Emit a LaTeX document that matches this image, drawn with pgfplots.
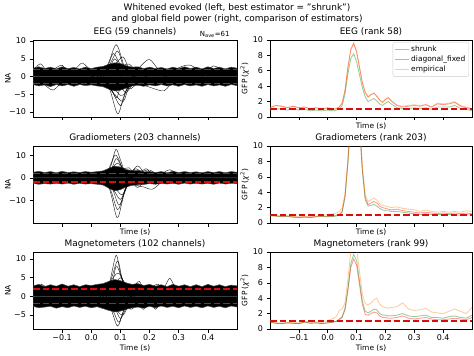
\documentclass[border=0pt]{standalone}
\usepackage{fontspec}
\setmainfont{DejaVu Sans}
\usepackage{pgfplots}
\pgfplotsset{compat=1.18}
\usepackage{pgfplotstable}

\pgfplotstableread{
t eu el gu gl mu ml
-0.20 2.35 -2.25 2.5 -2.4 2.8 -2.7
-0.18 2.75 -2.65 2.9 -2.8 3.2 -3.1
-0.16 2.25 -2.35 2.4 -2.5 2.6 -2.9
-0.14 2.65 -2.85 2.8 -2.7 3.1 -2.7
-0.12 2.15 -2.25 2.3 -2.4 2.7 -3.2
-0.10 2.75 -2.65 2.9 -2.7 3.3 -2.8
-0.08 2.25 -2.25 2.4 -2.3 2.7 -3.1
-0.06 2.55 -2.75 2.7 -2.8 3.1 -2.6
-0.04 2.15 -2.25 2.4 -2.4 2.6 -3.0
-0.02 2.65 -2.55 2.8 -2.7 3.1 -2.7
0.00 2.25 -2.35 2.5 -2.5 2.9 -3.1
0.02 2.65 -2.65 2.8 -2.8 3.2 -2.8
0.04 2.85 -2.85 3.1 -3.1 3.4 -3.3
0.06 3.45 -3.55 4.2 -4.5 4.0 -3.8
0.08 3.85 -4.05 5.2 -5.7 4.5 -4.2
0.10 3.65 -3.85 4.7 -5.2 4.2 -4.0
0.12 3.05 -3.25 3.7 -3.9 3.6 -3.5
0.14 2.65 -2.65 3.2 -3.3 3.2 -3.1
0.16 2.75 -2.45 3.3 -3.0 3.4 -2.9
0.18 2.25 -2.75 2.7 -2.9 2.9 -3.2
0.20 2.65 -2.35 2.8 -2.5 3.2 -2.7
0.22 2.25 -2.65 2.4 -2.8 2.7 -3.1
0.24 2.55 -2.25 2.8 -2.4 3.1 -2.6
0.26 2.15 -2.65 2.3 -2.7 2.6 -3.0
0.28 2.65 -2.35 2.9 -2.4 3.2 -2.7
0.30 2.25 -2.75 2.4 -2.8 2.7 -3.1
0.32 2.75 -2.25 2.8 -2.3 3.1 -2.6
0.34 2.25 -2.65 2.4 -2.7 2.6 -3.0
0.36 2.65 -2.35 2.7 -2.4 3.1 -2.7
0.38 2.15 -2.75 2.3 -2.7 2.6 -3.1
0.40 2.75 -2.25 2.8 -2.4 3.2 -2.6
0.42 2.25 -2.65 2.4 -2.8 2.7 -3.0
0.44 2.65 -2.35 2.8 -2.3 3.1 -2.7
0.46 2.15 -2.75 2.3 -2.7 2.6 -3.1
0.48 2.65 -2.25 2.8 -2.4 3.0 -2.6
0.50 2.35 -2.55 2.5 -2.5 2.8 -2.9
}\band

\pgfplotstableread{
t es ed ee gs gd ge ms md me
-0.20 1.2 0.9 1.2 1.0 0.9 1.1 0.9 0.9 1.0
-0.18 1.5 1.1 1.5 0.9 0.9 1.0 0.75 0.75 0.8
-0.16 1.4 1.0 1.4 0.85 0.8 0.9 0.7 0.7 0.75
-0.14 1.2 0.9 1.2 0.9 0.85 0.95 0.8 0.8 0.85
-0.12 1.4 1.1 1.4 0.8 0.75 0.85 0.75 0.75 0.8
-0.10 1.2 0.9 1.2 0.75 0.7 0.8 0.7 0.7 0.8
-0.08 1.3 1.0 1.3 0.8 0.75 0.85 0.9 0.9 1.0
-0.06 1.0 0.8 1.1 0.75 0.7 0.8 0.75 0.75 0.9
-0.04 1.2 0.9 1.2 0.85 0.8 0.9 0.8 0.8 0.95
-0.02 1.0 0.8 1.0 0.9 0.85 1.0 0.7 0.7 0.85
0.00 1.2 0.9 1.2 0.85 0.8 1.1 0.8 0.8 1.1
0.02 1.0 0.8 1.0 0.9 0.85 1.2 0.9 0.9 1.4
0.03 1.1 0.9 1.1 1.0 0.9 1.3 1.0 1.0 1.6
0.04 1.3 1.0 1.3 1.1 1.0 1.5 1.2 1.3 2.4
0.05 1.8 1.5 1.8 1.5 1.4 1.9 1.5 1.6 2.6
0.06 3.5 3.0 3.5 3.5 3.4 3.8 2.5 2.7 3.4
0.07 6.5 5.6 6.4 8 7.8 8.3 5.0 5.3 6.5
0.08 8.8 7.6 8.7 14 13.8 14 8.0 8.5 10.0
0.09 9.6 8.2 9.5 20 20 20 9.1 9.7 11.5
0.10 8.5 7.2 8.4 19 19 19 8.3 8.9 10.5
0.11 6.5 5.5 6.4 13 13 13.2 5.8 6.3 7.5
0.12 4.5 3.8 4.4 7 6.8 7.3 3.2 3.6 4.5
0.13 3.2 2.6 3.1 3.3 3.0 3.6 1.9 2.3 3.3
0.14 2.6 2.0 2.6 2.4 2.2 2.8 1.8 2.1 3.1
0.15 2.9 2.2 2.9 2.6 2.3 3.0 2.0 2.3 3.4
0.16 3.1 2.4 3.1 2.8 2.4 3.2 2.2 2.6 3.8
0.17 2.7 2.1 2.7 2.6 2.2 3.0 2.1 2.5 4.0
0.18 2.2 1.7 2.2 2.2 1.9 2.5 1.7 2.0 3.2
0.19 1.9 1.5 1.9 2.0 1.7 2.3 1.5 1.8 2.9
0.20 2.3 1.8 2.3 1.9 1.6 2.2 1.5 1.8 2.8
0.21 2.5 2.0 2.5 1.8 1.6 2.1 1.4 1.7 2.7
0.22 2.1 1.7 2.1 1.7 1.5 2.0 1.4 1.7 2.8
0.24 1.5 1.2 1.5 1.8 1.5 2.1 1.5 1.8 2.9
0.26 1.3 1.1 1.4 1.6 1.4 1.9 1.7 2.0 3.4
0.28 1.4 1.1 1.5 1.5 1.3 1.8 1.4 1.7 2.6
0.30 1.5 1.2 1.6 1.4 1.2 1.7 1.3 1.6 2.4
0.32 1.4 1.1 1.5 1.3 1.1 1.5 1.4 1.7 2.5
0.34 1.6 1.2 1.6 1.4 1.2 1.7 1.5 1.8 2.7
0.36 1.3 1.0 1.3 1.3 1.1 1.5 1.3 1.5 2.2
0.38 1.7 1.3 1.8 1.2 1.1 1.4 1.2 1.5 2.1
0.40 1.6 1.3 1.7 1.3 1.1 1.5 1.2 1.4 2.0
0.42 1.7 1.3 1.8 1.2 1.1 1.4 1.3 1.6 2.3
0.44 1.9 1.5 2.0 1.3 1.1 1.5 1.4 1.7 2.6
0.46 1.4 1.1 1.5 1.2 1.0 1.4 1.3 1.5 2.3
0.48 1.2 1.0 1.3 1.3 1.1 1.6 1.2 1.4 2.0
0.50 1.0 0.8 1.1 1.2 1.0 1.5 1.5 1.8 2.8
}\gfp

\definecolor{thrred}{rgb}{0.85,0.05,0.05}
\pgfplotsset{
  mybase/.style={scale only axis, height=77bp, xmin=-0.2, xmax=0.5,
    xtick={-0.1,0,0.1,0.2,0.3,0.4}, xticklabels={}, tick align=outside, tick pos=left,
    axis line style={line width=0.6bp}, major tick length=3.5bp,
    every tick/.style={black, line width=0.6bp},
    tick label style={font=\fontsize{8}{9}\selectfont},
    xticklabel style={yshift=1bp},
    label style={font=\fontsize{7.5}{9}\selectfont},
    xlabel style={at={(axis description cs:0.5,0)}, anchor=north, yshift=-2bp},
    title style={font=\fontsize{9}{11}\selectfont, at={(0.5,1)}, anchor=base, yshift=0bp, inner sep=0pt},
  },
  mybotx/.style={xticklabels={−0.1,0.0,0.1,0.2,0.3,0.4},
    xlabel style={yshift=-10bp}},
  myleft/.style={mybase, width=204bp, ylabel={NA},
    ylabel style={at={(axis description cs:-0.093,0.5)}, anchor=south}},
  myright/.style={mybase, width=202bp, ymin=0, ymax=10, ytick={0,2,4,6,8,10},
    yticklabels={0,2,4,6,8,10}, ylabel={GFP ({\itshape χ}\textsuperscript{2})},
    ylabel style={at={(axis description cs:-0.087,0.5)}, anchor=south}},
  mytrace/.style={black, line width=0.45bp, smooth, opacity=0.85},
  myband/.style={fill=black, draw=black!70, line width=0.5bp},
  mythr/.style={color=thrred, line width=1.8bp, dash pattern=on 6.5bp off 3bp},
  mysh/.style={color=red, opacity=0.4, line width=0.85bp},
  mydf/.style={color=green!50!black, opacity=0.4, line width=0.85bp},
  myem/.style={color=orange, opacity=0.4, line width=0.85bp},
}

\begin{document}
\begin{tikzpicture}[x=1bp,y=1bp]
\path[use as bounding box] (0,0) rectangle (474,355);
\node[anchor=base, font=\fontsize{9}{11}\selectfont] at (237,345) {Whitened evoked (left, best estimator = "shrunk")};
\node[anchor=base, font=\fontsize{9}{11}\selectfont] at (237,334) {and global field power (right, comparison of estimators)};

% ---------- EEG left
\begin{axis}[myleft, name=eegL, at={(33bp,238bp)}, anchor=south west,
  ymin=-11.4, ymax=10.3, ytick={-10,-5,0,5,10}, yticklabels={−10,−5,0,5,10},
  title={EEG (59 channels)}]
\addplot[myband] table[x=t,y=eu]{\band} \closedcycle;
\addplot[myband] table[x=t,y=el]{\band} \closedcycle;
\addplot[mytrace] coordinates {(0.0,0)(0.04,1)(0.06,4)(0.085,9)(0.105,5)(0.12,1)(0.15,0)};
\addplot[mytrace] coordinates {(0.0,0.5)(0.05,2)(0.075,6.5)(0.095,4)(0.12,2)(0.15,0.5)};
\addplot[mytrace] coordinates {(0.02,0)(0.06,3)(0.09,7.2)(0.11,3)(0.14,0)};
\addplot[mytrace] coordinates {(0.03,0)(0.06,2)(0.08,5)(0.1,3)(0.13,3.5)(0.16,1)(0.19,0)};
\addplot[mytrace] coordinates {(0.04,0)(0.07,2.5)(0.09,4.2)(0.11,5.5)(0.13,2)(0.15,0)};
\addplot[mytrace] coordinates {(0.02,0)(0.06,-3)(0.09,-10.5)(0.11,-6)(0.13,-2)(0.16,0)};
\addplot[mytrace] coordinates {(0.03,0)(0.07,-4)(0.1,-8.2)(0.12,-4)(0.15,0)};
\addplot[mytrace] coordinates {(0.04,-1)(0.08,-5)(0.11,-7)(0.13,-3)(0.17,-1)};
\addplot[mytrace] coordinates {(0.05,0)(0.085,-6)(0.1,-3)(0.12,-4.5)(0.15,-1)};
\addplot[mytrace] coordinates {(0.06,0)(0.09,-4.5)(0.11,-5.2)(0.14,-1)};
\addplot[mytrace] coordinates {(0.14,0)(0.17,3)(0.2,4.8)(0.23,2)(0.26,0)};
\addplot[mytrace] coordinates {(0.1,0)(0.13,-3.5)(0.16,-2)(0.2,-3)(0.25,-4)(0.28,-1)};
\addplot[mytrace] coordinates {(0.25,0)(0.3,2.5)(0.34,3.2)(0.38,1)};
\addplot[mytrace] coordinates {(-0.2,1.5)(-0.175,3.6)(-0.15,1.5)(-0.12,2.5)(-0.1,3.2)(-0.08,1)};
\addplot[mytrace] coordinates {(-0.08,1)(-0.05,2.5)(-0.03,3.8)(0.0,1.5)};
\addplot[mytrace] coordinates {(-0.18,-1)(-0.15,-3)(-0.13,-3.8)(-0.1,-1.5)};
\addplot[mytrace] coordinates {(0.38,0)(0.42,3)(0.46,1)};
\addplot[mythr] coordinates {(-0.2,1.96)(0.5,1.96)};
\addplot[mythr] coordinates {(-0.2,-1.96)(0.5,-1.96)};
\end{axis}
\node[anchor=base east, font=\fontsize{7}{8}\selectfont, xshift=-4bp, yshift=3bp] at (eegL.north east) {N\textsubscript{ave}=61};

% ---------- Grad left
\begin{axis}[myleft, at={(33bp,132bp)}, anchor=south west,
  ymin=-19.9, ymax=14.1, ytick={-10,0,10}, yticklabels={−10,0,10},
  title={Gradiometers (203 channels)}, xlabel={Time (s)}]
\addplot[myband] table[x=t,y=gu]{\band} \closedcycle;
\addplot[myband] table[x=t,y=gl]{\band} \closedcycle;
\addplot[mytrace] coordinates {(0.02,0)(0.05,2)(0.07,7)(0.085,12.7)(0.1,8)(0.115,3)(0.14,0)};
\addplot[mytrace] coordinates {(0.03,0)(0.06,3)(0.08,10)(0.095,8)(0.11,3)(0.13,0)};
\addplot[mytrace] coordinates {(0.03,0)(0.065,3)(0.085,8.5)(0.1,6)(0.12,2)(0.14,0)};
\addplot[mytrace] coordinates {(0.04,0)(0.07,4)(0.09,6.5)(0.11,4)(0.13,4.5)(0.15,1)};
\addplot[mytrace] coordinates {(0.05,0)(0.075,3)(0.095,5)(0.115,2)(0.14,0)};
\addplot[mytrace] coordinates {(0.02,0)(0.06,-4)(0.088,-17.5)(0.105,-11)(0.12,-3)(0.14,0)};
\addplot[mytrace] coordinates {(0.03,0)(0.065,-5)(0.09,-14)(0.11,-8)(0.13,-1)};
\addplot[mytrace] coordinates {(0.04,0)(0.07,-4)(0.095,-12)(0.115,-6)(0.135,0)};
\addplot[mytrace] coordinates {(0.04,0)(0.075,-5)(0.1,-9.5)(0.12,-4)(0.14,0)};
\addplot[mytrace] coordinates {(0.05,0)(0.08,-4)(0.105,-7.5)(0.125,-3)(0.15,0)};
\addplot[mytrace] coordinates {(0.12,0)(0.14,3)(0.16,5.3)(0.18,2.5)(0.2,0)};
\addplot[mytrace] coordinates {(0.14,0)(0.17,2.5)(0.2,3.5)(0.23,1)};
\addplot[mytrace] coordinates {(0.22,0)(0.25,2.5)(0.27,3.6)(0.3,1.5)(0.32,0)};
\addplot[mytrace] coordinates {(0.12,0)(0.15,-3)(0.18,-4)(0.21,-5)(0.24,-2)(0.27,0)};
\addplot[mytrace] coordinates {(0.13,0)(0.15,4)(0.17,3)(0.19,4)(0.21,1)};
\addplot[mytrace] coordinates {(0.1,0)(0.12,-4)(0.14,-2)(0.16,-4.2)(0.19,0)};
\addplot[mythr] coordinates {(-0.2,1.96)(0.5,1.96)};
\addplot[mythr] coordinates {(-0.2,-1.96)(0.5,-1.96)};
\end{axis}

% ---------- Mag left
\begin{axis}[myleft, mybotx, at={(33bp,26bp)}, anchor=south west,
  ymin=-8.8, ymax=11.9, ytick={-5,0,5,10}, yticklabels={−5,0,5,10},
  title={Magnetometers (102 channels)}, xlabel={Time (s)}]
\addplot[myband] table[x=t,y=mu]{\band} \closedcycle;
\addplot[myband] table[x=t,y=ml]{\band} \closedcycle;
\addplot[mytrace] coordinates {(0.03,0)(0.06,3)(0.085,11)(0.1,6)(0.12,1)(0.14,0)};
\addplot[mytrace] coordinates {(0.03,0)(0.065,4)(0.09,9.5)(0.105,5)(0.125,0)};
\addplot[mytrace] coordinates {(0.04,0)(0.07,3)(0.085,8)(0.1,6)(0.12,2)(0.14,0)};
\addplot[mytrace] coordinates {(0.04,0)(0.075,5)(0.095,6.2)(0.115,3)(0.14,0)};
\addplot[mytrace] coordinates {(0.05,0)(0.08,3)(0.1,5)(0.12,3)(0.15,0)};
\addplot[mytrace] coordinates {(0.03,0)(0.065,-3)(0.09,-8)(0.11,-4)(0.13,0)};
\addplot[mytrace] coordinates {(0.04,0)(0.075,-4)(0.095,-7)(0.115,-3)(0.135,0)};
\addplot[mytrace] coordinates {(0.05,0)(0.08,-3)(0.1,-6)(0.12,-3)(0.14,0)};
\addplot[mytrace] coordinates {(0.06,0)(0.09,-4)(0.11,-5)(0.13,-2)(0.15,0)};
\addplot[mytrace] coordinates {(0.13,0)(0.15,3)(0.165,4)(0.18,2)(0.2,3)(0.22,0)};
\addplot[mytrace] coordinates {(0.23,0)(0.255,3)(0.27,4.8)(0.29,2)(0.31,0)};
\addplot[mytrace] coordinates {(0.11,0)(0.135,-3.5)(0.16,-2)(0.18,-3.5)(0.21,0)};
\addplot[mytrace] coordinates {(0.18,0)(0.21,2.5)(0.23,3.2)(0.25,1)};
\addplot[mytrace] coordinates {(-0.2,1)(-0.17,3.2)(-0.14,1)};
\addplot[mytrace] coordinates {(0.2,0)(0.22,-3.5)(0.24,-1)};
\addplot[mythr] coordinates {(-0.2,1.96)(0.5,1.96)};
\addplot[mythr] coordinates {(-0.2,-1.96)(0.5,-1.96)};
\end{axis}

% ---------- EEG right
\begin{axis}[myright, at={(270bp,238bp)}, anchor=south west,
  title={EEG (rank 58)}, xlabel={Time (s)},
  legend style={at={(0.985,0.975)}, anchor=north east, draw=black!20, rounded corners=2bp,
    font=\fontsize{7.5}{9}\selectfont, inner sep=1.5bp, row sep=-1bp, cells={anchor=west}},
  legend image code/.code={\draw[#1] (0bp,0bp) -- (14bp,0bp);}]
\addplot[mysh] table[x=t,y=es]{\gfp}; \addlegendentry{shrunk}
\addplot[mydf] table[x=t,y=ed]{\gfp}; \addlegendentry{diagonal\_fixed}
\addplot[myem] table[x=t,y=ee]{\gfp}; \addlegendentry{empirical}
\addplot[mythr, forget plot] coordinates {(-0.2,1)(0.5,1)};
\end{axis}

% ---------- Grad right
\begin{axis}[myright, at={(270bp,132bp)}, anchor=south west,
  title={Gradiometers (rank 203)}, xlabel={Time (s)}]
\addplot[mysh] table[x=t,y=gs]{\gfp};
\addplot[mydf] table[x=t,y=gd]{\gfp};
\addplot[myem] table[x=t,y=ge]{\gfp};
\addplot[mythr] coordinates {(-0.2,1)(0.5,1)};
\end{axis}

% ---------- Mag right
\begin{axis}[myright, mybotx, at={(270bp,26bp)}, anchor=south west,
  title={Magnetometers (rank 99)}, xlabel={Time (s)}]
\addplot[mysh] table[x=t,y=ms]{\gfp};
\addplot[mydf] table[x=t,y=md]{\gfp};
\addplot[myem] table[x=t,y=me]{\gfp};
\addplot[mythr] coordinates {(-0.2,1)(0.5,1)};
\end{axis}
\end{tikzpicture}
\end{document}
